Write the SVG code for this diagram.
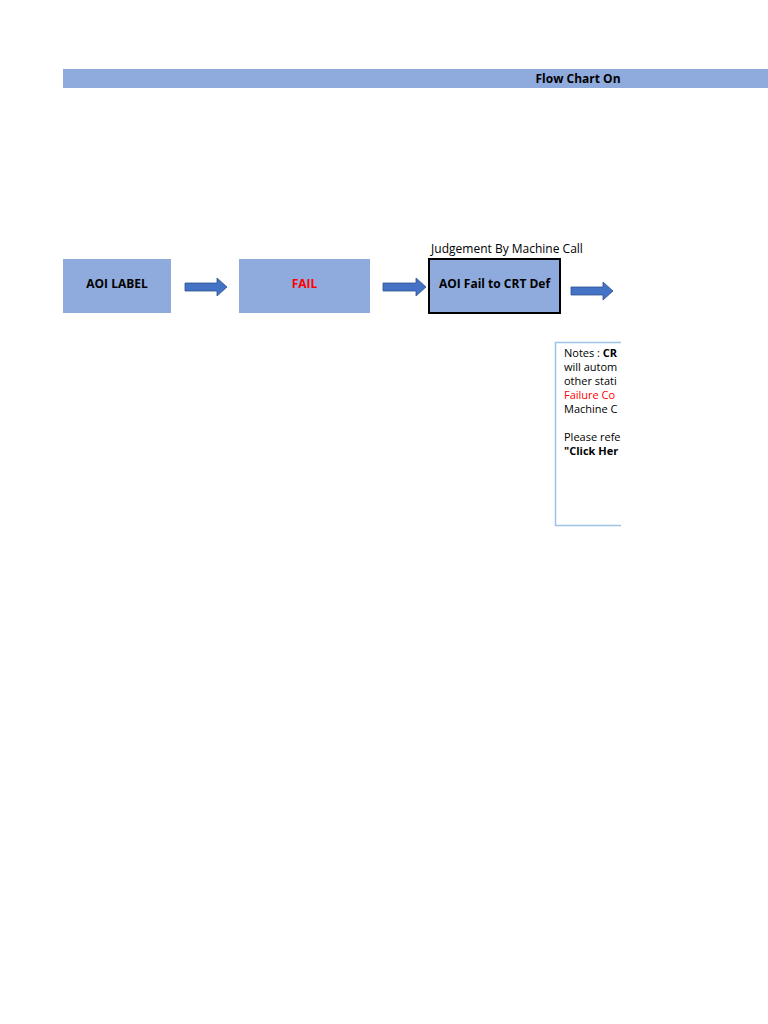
<svg xmlns="http://www.w3.org/2000/svg" width="768" height="1024" viewBox="0 0 768 1024">
<style>
text{font-family:"Open Sans","Liberation Sans",sans-serif;}
.box{fill:#8faadc;}
.lbl{font-size:12px;font-weight:bold;text-anchor:middle;fill:#000;}
.note{font-size:11px;fill:#000;}
.arrow{fill:#4472c4;stroke:#2f528f;stroke-width:0.8;}
</style>
<defs>
<clipPath id="clipR"><rect x="0" y="0" width="621" height="1024"/></clipPath>
</defs>
<g id="header">
<rect x="63" y="69" width="705" height="19" fill="#8faadc"/>
<text x="578" y="83" class="lbl">Flow Chart On</text>
</g>
<g id="node-aoi-label">
<rect class="box" x="63" y="259" width="108" height="54"/>
<text class="lbl" x="117" y="288">AOI LABEL</text>
</g>
<g id="node-fail">
<rect class="box" x="239" y="259" width="131" height="54"/>
<text class="lbl" x="304.5" y="288" style="fill:#ff0000">FAIL</text>
</g>
<g id="node-crt">
<text x="507" y="253" style="font-size:12px;text-anchor:middle">Judgement By Machine Call</text>
<rect class="box" x="429" y="259" width="131" height="54" stroke="#000" stroke-width="2"/>
<text class="lbl" x="494.5" y="288">AOI Fail to CRT Def</text>
</g>
<g id="connectors">
<path class="arrow" d="M185,283 H217 V278 L227,287 L217,296 V291 H185 Z"/>
<path class="arrow" d="M383,283 H416 V278 L426,287 L416,296 V291 H383 Z"/>
<path class="arrow" d="M571,287 H603 V282 L613,291 L603,300 V295 H571 Z"/>
</g>
<g id="notes" clip-path="url(#clipR)">
<rect x="555.5" y="342.5" width="120" height="183" fill="#fff" stroke="#9dc3e6" stroke-width="1.5"/>
<text class="note" x="564" y="357">Notes : <tspan font-weight="bold">CR</tspan></text>
<text class="note" x="564" y="371">will autom</text>
<text class="note" x="564" y="385">other stati</text>
<text class="note" x="564" y="399" style="fill:#ff0000">Failure Co</text>
<text class="note" x="564" y="413">Machine C</text>
<text class="note" x="564" y="441">Please refe</text>
<text class="note" x="564" y="455" font-weight="bold">"Click Her</text>
</g>
</svg>
